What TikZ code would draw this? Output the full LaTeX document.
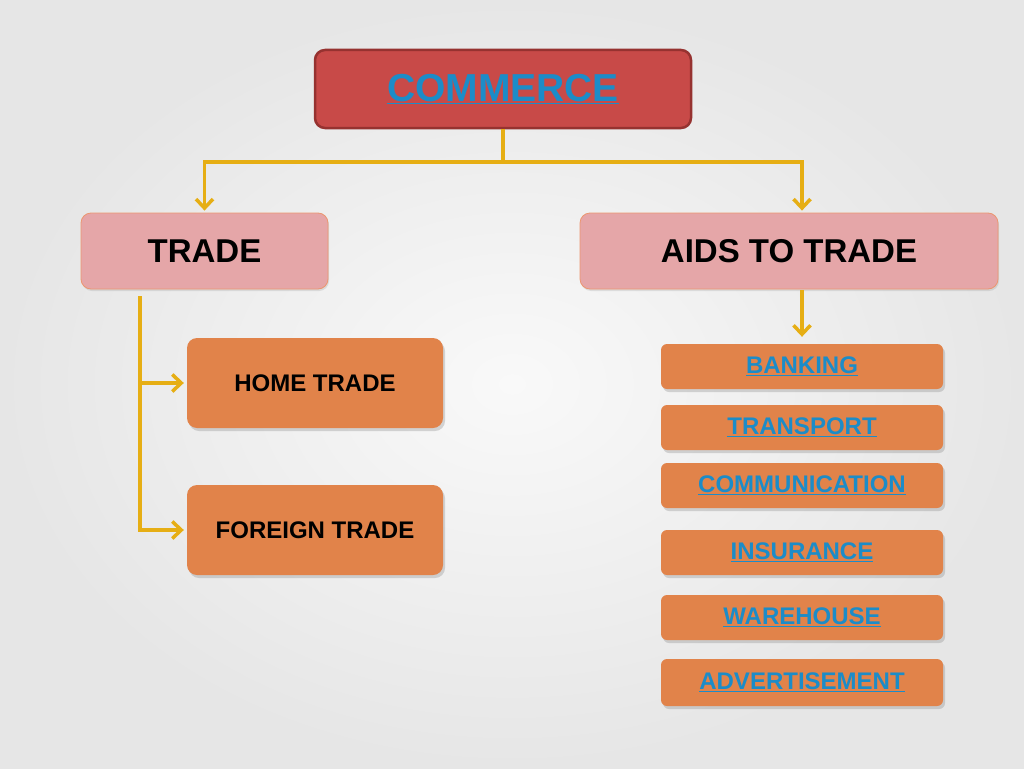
\documentclass[tikz,border=0pt]{standalone}
\usepackage{fontspec}
\setmainfont{Liberation Sans}
\usetikzlibrary{arrows.meta,shadows}
\definecolor{linkgold}{RGB}{230,174,20}
\definecolor{redfill}{RGB}{200,74,72}
\definecolor{reddraw}{RGB}{150,50,48}
\definecolor{pinkfill}{RGB}{229,166,168}
\definecolor{pinkdraw}{RGB}{236,150,112}
\definecolor{orangefill}{RGB}{225,131,74}
\definecolor{linkblue}{RGB}{28,140,200}
\newcommand{\linktext}[1]{\underline{#1}}
\tikzset{
    topbox/.style={draw=reddraw, line width=2.5pt, fill=redfill, rounded corners=10pt,
        minimum width=376pt, minimum height=78pt, inner sep=0pt,
        font=\bfseries\fontsize{39}{40}\selectfont, text=linkblue},
    mainbox/.style={draw=pinkdraw, line width=0.8pt, fill=pinkfill, rounded corners=10pt,
        minimum height=76pt, inner sep=0pt, font=\bfseries\fontsize{33}{34}\selectfont,
        drop shadow={opacity=0.2, shadow xshift=1pt, shadow yshift=-2pt}},
    subbox/.style={fill=orangefill, rounded corners=10pt, minimum width=256pt,
        minimum height=90pt, inner sep=0pt, font=\bfseries\fontsize{24}{26}\selectfont,
        drop shadow={opacity=0.3, shadow xshift=2pt, shadow yshift=-3pt}},
    aidbox/.style={fill=orangefill, rounded corners=6pt, minimum width=282pt,
        minimum height=45pt, inner sep=0pt, text=linkblue,
        font=\bfseries\fontsize{24}{26}\selectfont,
        drop shadow={opacity=0.3, shadow xshift=2pt, shadow yshift=-3pt}},
    link/.style={draw=linkgold, line width=3.5pt},
    linkarrow/.style={link, -{Straight Barb[length=9pt, width=17pt]}}
}
\begin{document}
\begin{tikzpicture}[x=1pt, y=-1pt]
    % background
    \shade[inner color={rgb,255:red,249;green,249;blue,249}, outer color={rgb,255:red,230;green,230;blue,230}]
        (0,0) rectangle (1024,768);
    \useasboundingbox (0,0) rectangle (1024,768);

    \node[topbox] (commerce) at (503,89) {\linktext{COMMERCE}};

    \node[mainbox, minimum width=247pt] (trade) at (204.5,251) {TRADE};
    \node[mainbox, minimum width=418pt] (aids) at (789,251) {AIDS TO TRADE};

    \node[subbox] (home) at (315,383) {HOME TRADE};
    \node[subbox] (foreign) at (315,530) {FOREIGN TRADE};

    \node[aidbox] (banking) at (802,366.5) {\linktext{BANKING}};
    \node[aidbox] (transport) at (802,427.5) {\linktext{TRANSPORT}};
    \node[aidbox] (communication) at (802,485.5) {\linktext{COMMUNICATION}};
    \node[aidbox] (insurance) at (802,552.5) {\linktext{INSURANCE}};
    \node[aidbox] (warehouse) at (802,617.5) {\linktext{WAREHOUSE}};
    \node[aidbox, minimum height=47pt] (advertisement) at (802,682.5) {\linktext{ADVERTISEMENT}};

    % connectors
    \coordinate (split) at (503,162);
    \coordinate (tradeline) at (140,296);
    \draw[link] (commerce.south) -- (split);
    \draw[linkarrow] (split) -| ([yshift=2pt]trade.north);
    \draw[linkarrow] (split) -| ([yshift=2pt]banking |- aids.north);
    \draw[linkarrow] ([yshift=-1pt]banking |- aids.south) -- ([yshift=7pt]banking.north);
    \draw[linkarrow] (tradeline) |- ([xshift=-3pt]home.west);
    \draw[linkarrow] (tradeline) |- ([xshift=-3pt]foreign.west);
\end{tikzpicture}
\end{document}
